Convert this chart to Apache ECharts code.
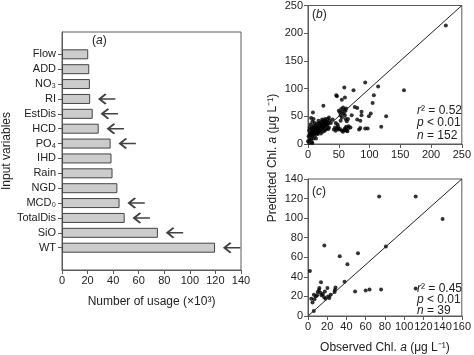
<!DOCTYPE html>
<html><head><meta charset="utf-8">
<script src="https://cdn.jsdelivr.net/npm/echarts@6/dist/echarts.min.js"></script>
<style>html,body{margin:0;padding:0;background:#fff}#c{width:474px;height:355px}</style>
</head><body><div id="c"></div>
<script>
// Panel (a)
const categories = ['Flow','ADD','NO₃','RI','EstDis','HCD','PO₄','IHD','Rain','NGD','MCD₀','TotalDis','SiO','WT'];
const usage = [20.5,21.3,21.8,22,24,28.7,38,38.7,39.5,43.3,45,49,75,119.7];
const arrowed = ['RI','EstDis','HCD','PO₄','MCD₀','TotalDis','SiO','WT'];
const usageTicks = [0,20,40,60,80,100,120,140];

// Panel (b): observed vs predicted (training)
const obsB = [224,156,93,114,107,105,127,119,102,99,97,93,74,59,60,55,46,47,25,8,5,76,80,87,87,80,85,83,85,66,61,63,
 54,60,50,52,56,58,61,62,57,53,60,55,61,63,53,45,48,40,37,34,44,47,50,52,55,58,60,62,66,69,49,64,71,65,45,42,57,
 0,2,1,3,4,5,6,7,8,9,10,11,12,13,14,15,16,17,18,19,20,21,22,23,24,25,26,27,28,29,30,31,32,33,34,35,
 2,3,4,5,6,7,8,9,10,11,12,13,14,15,16,17,18,19,20,21,22,23,24,25,26,27,28,29,30,31,
 6,8,10,12,14,16,18,20,22,24,26,28,30,33,5,7,3,9,11];
const predB = [214,97,111,104,88,74,50,31,55,50,28,28,97,102,84,80,88,86,69,57,47,67,65,58,52,44,42,26,29,29,26,24,
 63,62,60,57,58,55,60,64,66,52,52,48,45,41,42,38,35,44,38,48,30,28,26,27,24,25,28,31,32,30,31,23,52,45,24,26,22,
 5,2,14,8,20,12,3,17,25,10,22,28,18,30,24,20,33,27,22,36,30,25,40,33,28,38,31,43,35,26,40,33,45,38,30,42,
 25,30,35,16,28,40,20,33,15,38,24,10,36,28,18,42,30,24,35,19,28,44,22,30,37,24,30,40,28,36,
 22,30,26,32,20,26,38,23,34,41,26,45,34,27,8,2,18,45,20];

// Panel (c): observed vs predicted (validation)
const obsC = [74,112,140,17,33,52,41,81,2,38,49,60,64,76,112,6,
 3.4,4.7,6.7,8.1,6.1,9.4,10.1,11.4,11.8,13.5,12.8,14.1,15.5,16.8,17.5,18.2,20.2,20.9,22.2,23.6,27.6,28.6,28];
const predC = [122,122,99,72,61,64,53,71,46,35,25,26,27,27,28,5,
 17.7,13.7,17,19.8,21.8,21.1,24.4,26.5,28.5,34.5,23.8,21.1,22.4,19.1,25.1,17.7,28.5,19.8,18.4,21.8,24.4,29.1,26.5];

const axB = {min:0, max:250, interval:50};
const axBy = {min:0, max:250, interval:50};
const axC = {min:0, max:160, interval:20};
const axCy = {min:0, max:140, interval:20};

const FONT = 'Liberation Sans, Arial, sans-serif';
const AX = '#5a5a5a';
const TXT = '#222';

const catPadded = [''].concat(categories, ['']);
const usagePadded = [null].concat(usage, [null]);
const arrowData = categories.map((c,i)=> arrowed.indexOf(c) >= 0 ? [usage[i] + 13.5, c] : null).filter(d=>d);

function valAxis(gi, r, extra){
  return Object.assign({
    type:'value', gridIndex:gi, min:r.min, max:r.max, interval:r.interval,
    axisLine:{show:true, onZero:false, lineStyle:{color:AX, width:1}},
    axisTick:{show:true, inside:false, length:4, lineStyle:{color:AX}},
    axisLabel:{color:TXT, fontSize:11, fontFamily:FONT, margin:5},
    splitLine:{show:false}
  }, extra||{});
}

const chart = echarts.init(document.getElementById('c'), null, {renderer:'canvas'});
chart.setOption({
  animation:false,
  backgroundColor:'#fff',
  textStyle:{fontFamily:FONT},
  grid:[
    {left:59, top:32, width:182, height:238, show:true, borderColor:AX, borderWidth:1, backgroundColor:'transparent'},
    {left:308, top:5, width:158, height:139, show:true, borderColor:AX, borderWidth:1, backgroundColor:'transparent'},
    {left:308, top:179, width:158, height:140, show:true, borderColor:AX, borderWidth:1, backgroundColor:'transparent'}
  ],
  xAxis:[
    valAxis(0, {min:usageTicks[0], max:usageTicks[usageTicks.length-1], interval:usageTicks[1]-usageTicks[0]}, {
      name:'Number of usage (×10³)', nameLocation:'middle', nameGap:26,
      nameTextStyle:{color:TXT, fontSize:12, fontFamily:FONT}
    }),
    valAxis(1, axB),
    valAxis(2, axC, {
      name:'{n|Observed Chl. }{i|a}{n| (μg L⁻¹)}', nameLocation:'middle', nameGap:26,
      nameTextStyle:{color:TXT, fontSize:12, fontFamily:FONT,
        rich:{n:{fontSize:12, color:TXT, fontFamily:FONT}, i:{fontSize:12, color:TXT, fontStyle:'italic', fontFamily:FONT}}}
    })
  ],
  yAxis:[
    {type:'category', gridIndex:0, data:catPadded, inverse:true,
     axisLine:{show:true, lineStyle:{color:AX}},
     axisTick:{show:true, alignWithLabel:true, length:4, lineStyle:{color:AX},
       interval:function(i){ return i>0 && i<catPadded.length-1; }},
     axisLabel:{color:TXT, fontSize:11, fontFamily:FONT, margin:6, interval:0},
     name:'Input variables', nameLocation:'middle', nameGap:46, nameRotate:90,
     nameTextStyle:{color:TXT, fontSize:12, fontFamily:FONT}
    },
    valAxis(1, axBy),
    valAxis(2, axCy)
  ],
  series:[
    {type:'bar', xAxisIndex:0, yAxisIndex:0, data:usagePadded, barWidth:10,
     itemStyle:{color:'#cccccc', borderColor:'#444', borderWidth:1}},
    {type:'scatter', xAxisIndex:0, yAxisIndex:0, data:arrowData,
     symbol:'path://M0,5 L20,5 M8,0 L0,5 L8,10', symbolSize:[16,10],
     itemStyle:{color:'none', borderColor:'#111', borderWidth:1.8}, z:5},
    {type:'scatter', xAxisIndex:1, yAxisIndex:1, data:obsB.map((x,i)=>[x,predB[i]]),
     symbol:'circle', symbolSize:4, itemStyle:{color:'#000'},
     markLine:{silent:true, symbol:'none', label:{show:false}, lineStyle:{color:'#222', width:1, type:'solid'},
       data:[[{coord:[axB.min,axBy.min]},{coord:[axB.max,axBy.max]}]]}},
    {type:'scatter', xAxisIndex:2, yAxisIndex:2, data:obsC.map((x,i)=>[x,predC[i]]),
     symbol:'circle', symbolSize:4, itemStyle:{color:'#000'},
     markLine:{silent:true, symbol:'none', label:{show:false}, lineStyle:{color:'#222', width:1, type:'solid'},
       data:[[{coord:[axC.min,axCy.min]},{coord:[axC.max,axCy.max]}]]}}
  ],
  graphic:[
    {type:'text', left:92, top:35, style:{text:'({i|a})', fill:TXT, font:'12px '+FONT,
      rich:{i:{fontStyle:'italic', fontSize:12, fill:TXT, fontFamily:FONT}}}},
    {type:'text', left:312, top:9, style:{text:'({i|b})', fill:TXT, font:'12px '+FONT,
      rich:{i:{fontStyle:'italic', fontSize:12, fill:TXT, fontFamily:FONT}}}},
    {type:'text', left:312, top:186, style:{text:'({i|c})', fill:TXT, font:'12px '+FONT,
      rich:{i:{fontStyle:'italic', fontSize:12, fill:TXT, fontFamily:FONT}}}},
    {type:'text', right:12, top:104, style:{text:'{i|r}² = 0.52\n{i|p} < 0.01\n{i|n} = 152', fill:TXT, font:'12px '+FONT,
      lineHeight:12.5, align:'right', rich:{i:{fontStyle:'italic', fontSize:12, fill:TXT, fontFamily:FONT}}}},
    {type:'text', right:12, top:283, style:{text:'{i|r}² = 0.45\n{i|p} < 0.01\n{i|n} = 39', fill:TXT, font:'12px '+FONT,
      lineHeight:11, align:'right', rich:{i:{fontStyle:'italic', fontSize:12, fill:TXT, fontFamily:FONT}}}},
    {type:'text', x:273, y:158, rotation:Math.PI/2,
      style:{text:'Predicted Chl. {i|a} (μg L⁻¹)', fill:TXT, font:'12px '+FONT, align:'center', verticalAlign:'middle',
      rich:{i:{fontStyle:'italic', fontSize:12, fill:TXT, fontFamily:FONT}}}}
  ]
});
</script></body></html>
